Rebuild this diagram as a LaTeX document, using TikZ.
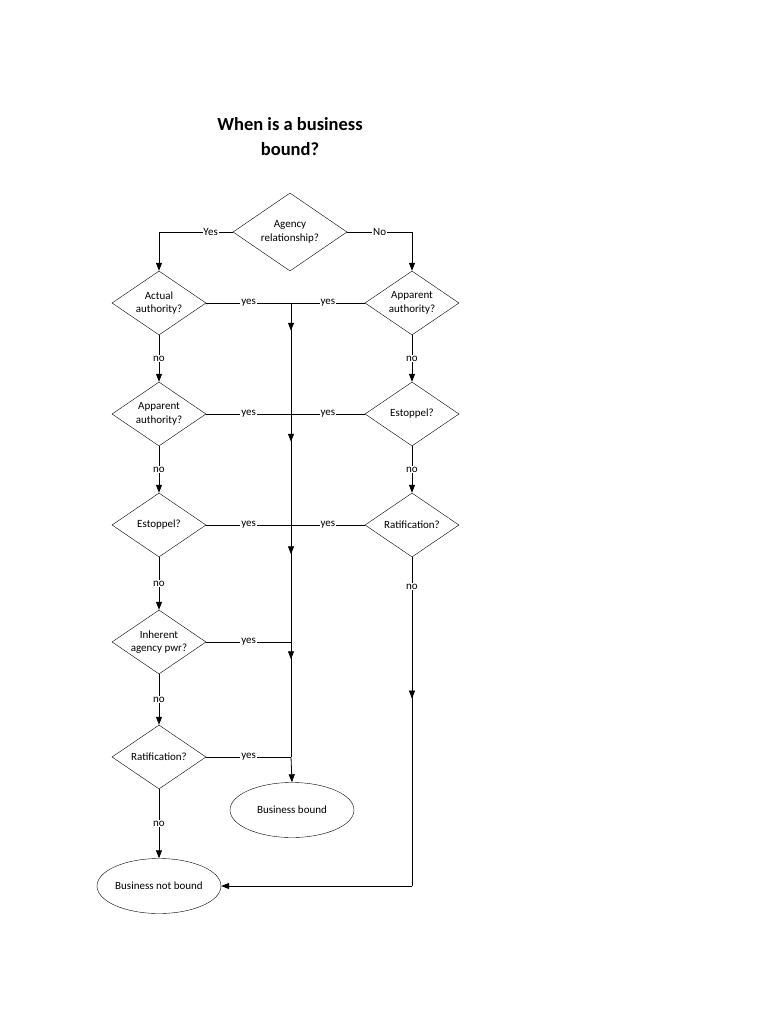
\documentclass[tikz,border=0pt]{standalone}
\usepackage{fontspec}
\setmainfont{Carlito}
\usetikzlibrary{shapes.geometric,arrows.meta,decorations.markings}
\begin{document}
\begin{tikzpicture}[x=1pt,y=-1pt,
  every node/.style={font=\fontsize{11}{12}\selectfont},
  dia/.style={diamond,draw,inner sep=0pt,minimum width=94pt,minimum height=64pt},
  bigdia/.style={dia,minimum width=114pt,minimum height=78pt},
  term/.style={ellipse,draw,minimum width=124pt,minimum height=55pt,inner sep=0pt},
  dtext/.style={align=center,font=\fontsize{11}{13.5}\selectfont},
  lab/.style={fill=white,inner sep=0.8pt,font=\fontsize{11}{12}\selectfont},
  arr/.style={-{Triangle[length=8pt,width=6pt]}},
  midarr/.style={postaction={decorate},decoration={markings,mark=at position #1 with {\arrow{Triangle[length=8pt,width=6pt]}}}}
]
\useasboundingbox[fill=white] (0,0) rectangle (768,1024);
\node[align=center,font=\bfseries\fontsize{18.5}{25}\selectfont] (title) at (290,137) {When is a business\\bound?};

\node[bigdia,label={[dtext]center:Agency\\relationship?}] (ag) at (290,232) {};
\node[dia,label={[dtext]center:Actual\\authority?}] (l1) at (159,303) {};
\node[dia,label={[dtext]center:Apparent\\authority?}] (l2) at (159,414) {};
\node[dia,label={[dtext]center:Estoppel?}] (l3) at (159,525) {};
\node[dia,label={[dtext]center:Inherent\\agency pwr?}] (l4) at (159,642) {};
\node[dia,label={[dtext]center:Ratification?}] (l5) at (159,757) {};
\node[dia,label={[dtext]center:Apparent\\authority?}] (r1) at (412,303) {};
\node[dia,label={[dtext]center:Estoppel?}] (r2) at (412,414) {};
\node[dia,label={[dtext]center:Ratification?}] (r3) at (412,525) {};
\node[term] (bb) at (292,810) {Business bound};
\node[term] (bnb) at (159,886) {Business not bound};

\coordinate (b1) at (291,303);
\coordinate (b2) at (291,414);
\coordinate (b3) at (291,525);
\coordinate (b4) at (291,642);
\coordinate (b5) at (291,757);
\coordinate (rc) at (412,886);

\begin{scope}[line width=0.8pt]
\draw[arr] (ag.west) -- node[lab,pos=0.3]{Yes} (ag.west -| l1) -- (l1.north);
\draw[arr] (ag.east) -- node[lab,pos=0.5]{No} (ag.east -| r1) -- (r1.north);
\draw[arr] (l1.south) -- node[lab]{no} (l2.north);
\draw[arr] (l2.south) -- node[lab]{no} (l3.north);
\draw[arr] (l3.south) -- node[lab]{no} (l4.north);
\draw[arr] (l4.south) -- node[lab]{no} (l5.north);
\draw[arr] (l5.south) -- node[lab]{no} (bnb.north);
\draw[arr] (r1.south) -- node[lab]{no} (r2.north);
\draw[arr] (r2.south) -- node[lab]{no} (r3.north);
\draw[midarr=0.43] (r3.south) -- node[lab,pos=0.09]{no} (rc);
\draw[arr] (rc) -- (bnb.east);
\draw (l1.east) -- node[lab]{yes} (b1);
\draw (r1.west) -- node[lab]{yes} (b1);
\draw (l2.east) -- node[lab]{yes} (b2);
\draw (r2.west) -- node[lab]{yes} (b2);
\draw (l3.east) -- node[lab]{yes} (b3);
\draw (r3.west) -- node[lab]{yes} (b3);
\draw (l4.east) -- node[lab]{yes} (b4);
\draw (l5.east) -- node[lab]{yes} (b5);
\draw[midarr=0.25] (b1) -- (b2);
\draw[midarr=0.25] (b2) -- (b3);
\draw[midarr=0.25] (b3) -- (b4);
\draw[midarr=0.15] (b4) -- (b5);
\draw[arr] (b5) -- (bb.north);
\end{scope}
\end{tikzpicture}
\end{document}
